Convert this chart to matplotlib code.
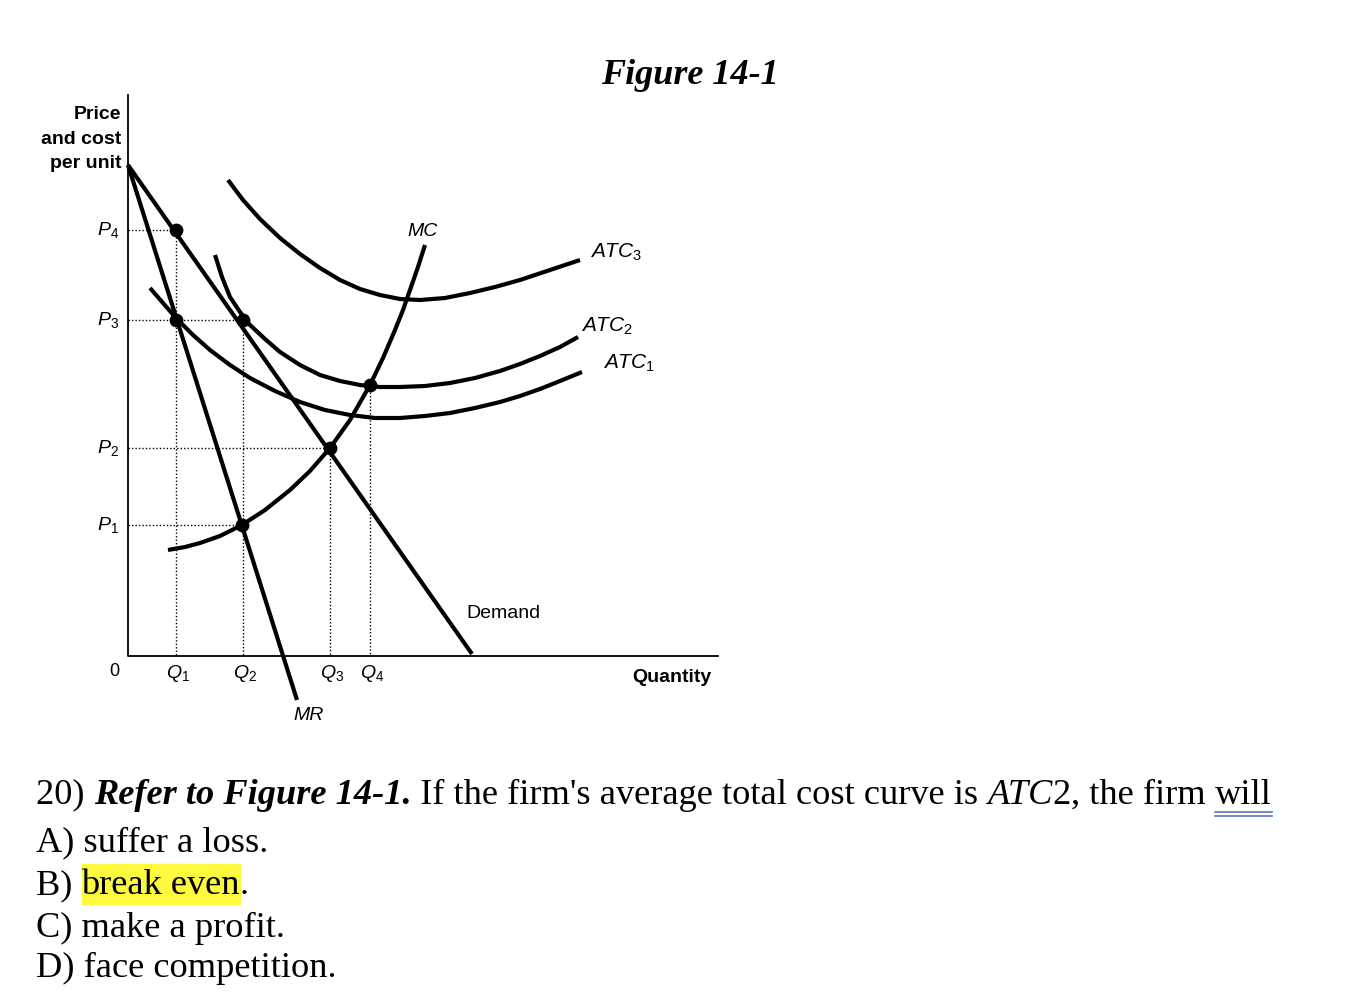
import matplotlib.pyplot as plt
from matplotlib.patches import Rectangle

plt.rcParams["font.family"] = "Liberation Sans"
plt.rcParams["mathtext.fontset"] = "custom"
plt.rcParams["mathtext.it"] = "Liberation Sans:italic"
plt.rcParams["mathtext.rm"] = "Liberation Sans"

W, H = 1350, 1006

# chart values, in the picture's pixel grid
origin = (128, 656)
p_labels = ["$P_4$", "$P_3$", "$P_2$", "$P_1$"]
p_levels = [230, 320, 448, 525]
p_reach = [176, 243, 330, 242]
q_labels = ["$Q_1$", "$Q_2$", "$Q_3$", "$Q_4$"]
q_pos = [176, 243, 330, 370]
q_top = [230, 320, 448, 385]

demand_x = [128, 472]
demand_y = [165, 654]
mr_x = [128, 297]
mr_y = [165, 700]
mc_x = [168, 185, 200, 220, 242, 265, 290, 310, 330, 350, 370, 383, 395, 403, 410, 418, 425]
mc_y = [550, 547, 543, 536, 525, 510, 490, 471, 448, 420, 385, 358, 330, 310, 290, 267, 245]
atc3_x = [228, 243, 260, 280, 300, 320, 340, 360, 380, 400, 420, 445, 470, 495, 520, 550, 580]
atc3_y = [180, 200, 219, 238, 254, 268, 280, 289, 295, 299, 300, 298, 293, 287, 280, 270, 260]
atc2_x = [215, 222, 230, 240, 250, 265, 280, 300, 320, 340, 360, 380, 400, 425, 450, 475, 500, 520, 540, 560, 578]
atc2_y = [255, 277, 297, 312, 325, 339, 352, 365, 375, 381, 385, 387, 387, 386, 383, 378, 371, 364, 356, 347, 337]
atc1_x = [150, 163, 176, 193, 210, 230, 250, 275, 300, 325, 350, 375, 400, 425, 450, 475, 500, 520, 540, 560, 582]
atc1_y = [288, 303, 318, 335, 350, 365, 378, 391, 402, 410, 415, 418, 418, 416, 413, 408, 402, 396, 389, 381, 372]
dots_x = [176, 176, 243, 242, 330, 370]
dots_y = [230, 320, 320, 525, 448, 385]

fig = plt.figure(figsize=(W / 100, H / 100), dpi=100)
ax = fig.add_axes([0, 0, 1, 1])
ax.set_xlim(0, W)
ax.set_ylim(H, 0)
ax.axis("off")

ox, oy = origin
ax.plot([ox, ox, 718], [95, oy, oy], color="black", lw=1.3)

for lab, y, xr in zip(p_labels, p_levels, p_reach):
    ax.plot([ox, xr], [y, y], color="black", lw=1, ls=(0, (1, 1.5)))
    ax.text(108, y, lab, fontsize=14, ha="center", va="center")
for lab, x, yt in zip(q_labels, q_pos, q_top):
    ax.plot([x, x], [yt, oy], color="black", lw=1, ls=(0, (1, 1.5)))
    ax.text(x + 2, 674, lab, fontsize=14, ha="center", va="center")

kw = dict(color="black", lw=3, solid_capstyle="butt", solid_joinstyle="round")
ax.plot(demand_x, demand_y, **kw)
ax.plot(mr_x, mr_y, **kw)
ax.plot(mc_x, mc_y, **kw)
ax.plot(atc3_x, atc3_y, **kw)
ax.plot(atc2_x, atc2_y, **kw)
ax.plot(atc1_x, atc1_y, **kw)
ax.scatter(dots_x, dots_y, s=80, color="black", zorder=5)

ax.text(114, 671, "0", fontsize=13, ha="center", va="center")
ax.text(121, 139, "Price\nand cost\nper unit", fontsize=14, fontweight="bold",
        ha="right", va="center", linespacing=1.6)
ax.text(672, 678, "Quantity", fontsize=14, fontweight="bold", ha="center", va="center")
ax.text(503, 614, "Demand", fontsize=14, ha="center", va="center")
ax.text(309, 716, "MR", fontsize=14, style="italic", ha="center", va="center")
ax.text(423, 231, "MC", fontsize=14, style="italic", ha="center", va="center")
ax.text(590, 252, "$ATC_3$", fontsize=15, ha="left", va="center")
ax.text(581, 326, "$ATC_2$", fontsize=15, ha="left", va="center")
ax.text(603, 363, "$ATC_1$", fontsize=15, ha="left", va="center")
ax.text(690, 75, "Figure 14-1", fontsize=26, family="Liberation Serif",
        fontweight="bold", style="italic", ha="center", va="center")

serif = "Liberation Serif"
fs = 26.2

fig.canvas.draw()
rend = fig.canvas.get_renderer()


def chain(x, y, pieces):
    boxes = []
    for txt, extra in pieces:
        t = ax.text(x, y, txt, fontsize=fs, family=serif, ha="left", va="center", **extra)
        bb = t.get_window_extent(rend)
        boxes.append((x, x + bb.width))
        x += bb.width
    return boxes


b = chain(36, 795, [("20) ", {}), ("Refer to Figure 14-1.", dict(fontweight="bold", style="italic")),
                    (" If the firm's average total cost curve is ", {}), ("ATC", dict(style="italic")),
                    ("2", {}), (", the firm ", {}), ("will", {})])
x0, x1 = b[-1]
ax.plot([x0, x1], [812, 812], color="#5b6fd6", lw=1.2)
ax.plot([x0, x1], [816, 816], color="#5b6fd6", lw=1.2)

chain(36, 843, [("A) suffer a loss.", {})])
b = chain(36, 886, [("B) ", {}), ("break even", {}), (".", {})])
hx0, hx1 = b[1]
ax.add_patch(Rectangle((hx0, 864), hx1 - hx0, 40, color="#fdf93f", zorder=0))
chain(36, 928, [("C) make a profit.", {})])
chain(36, 968, [("D) face competition.", {})])

fig.savefig("out.png", dpi=100)
